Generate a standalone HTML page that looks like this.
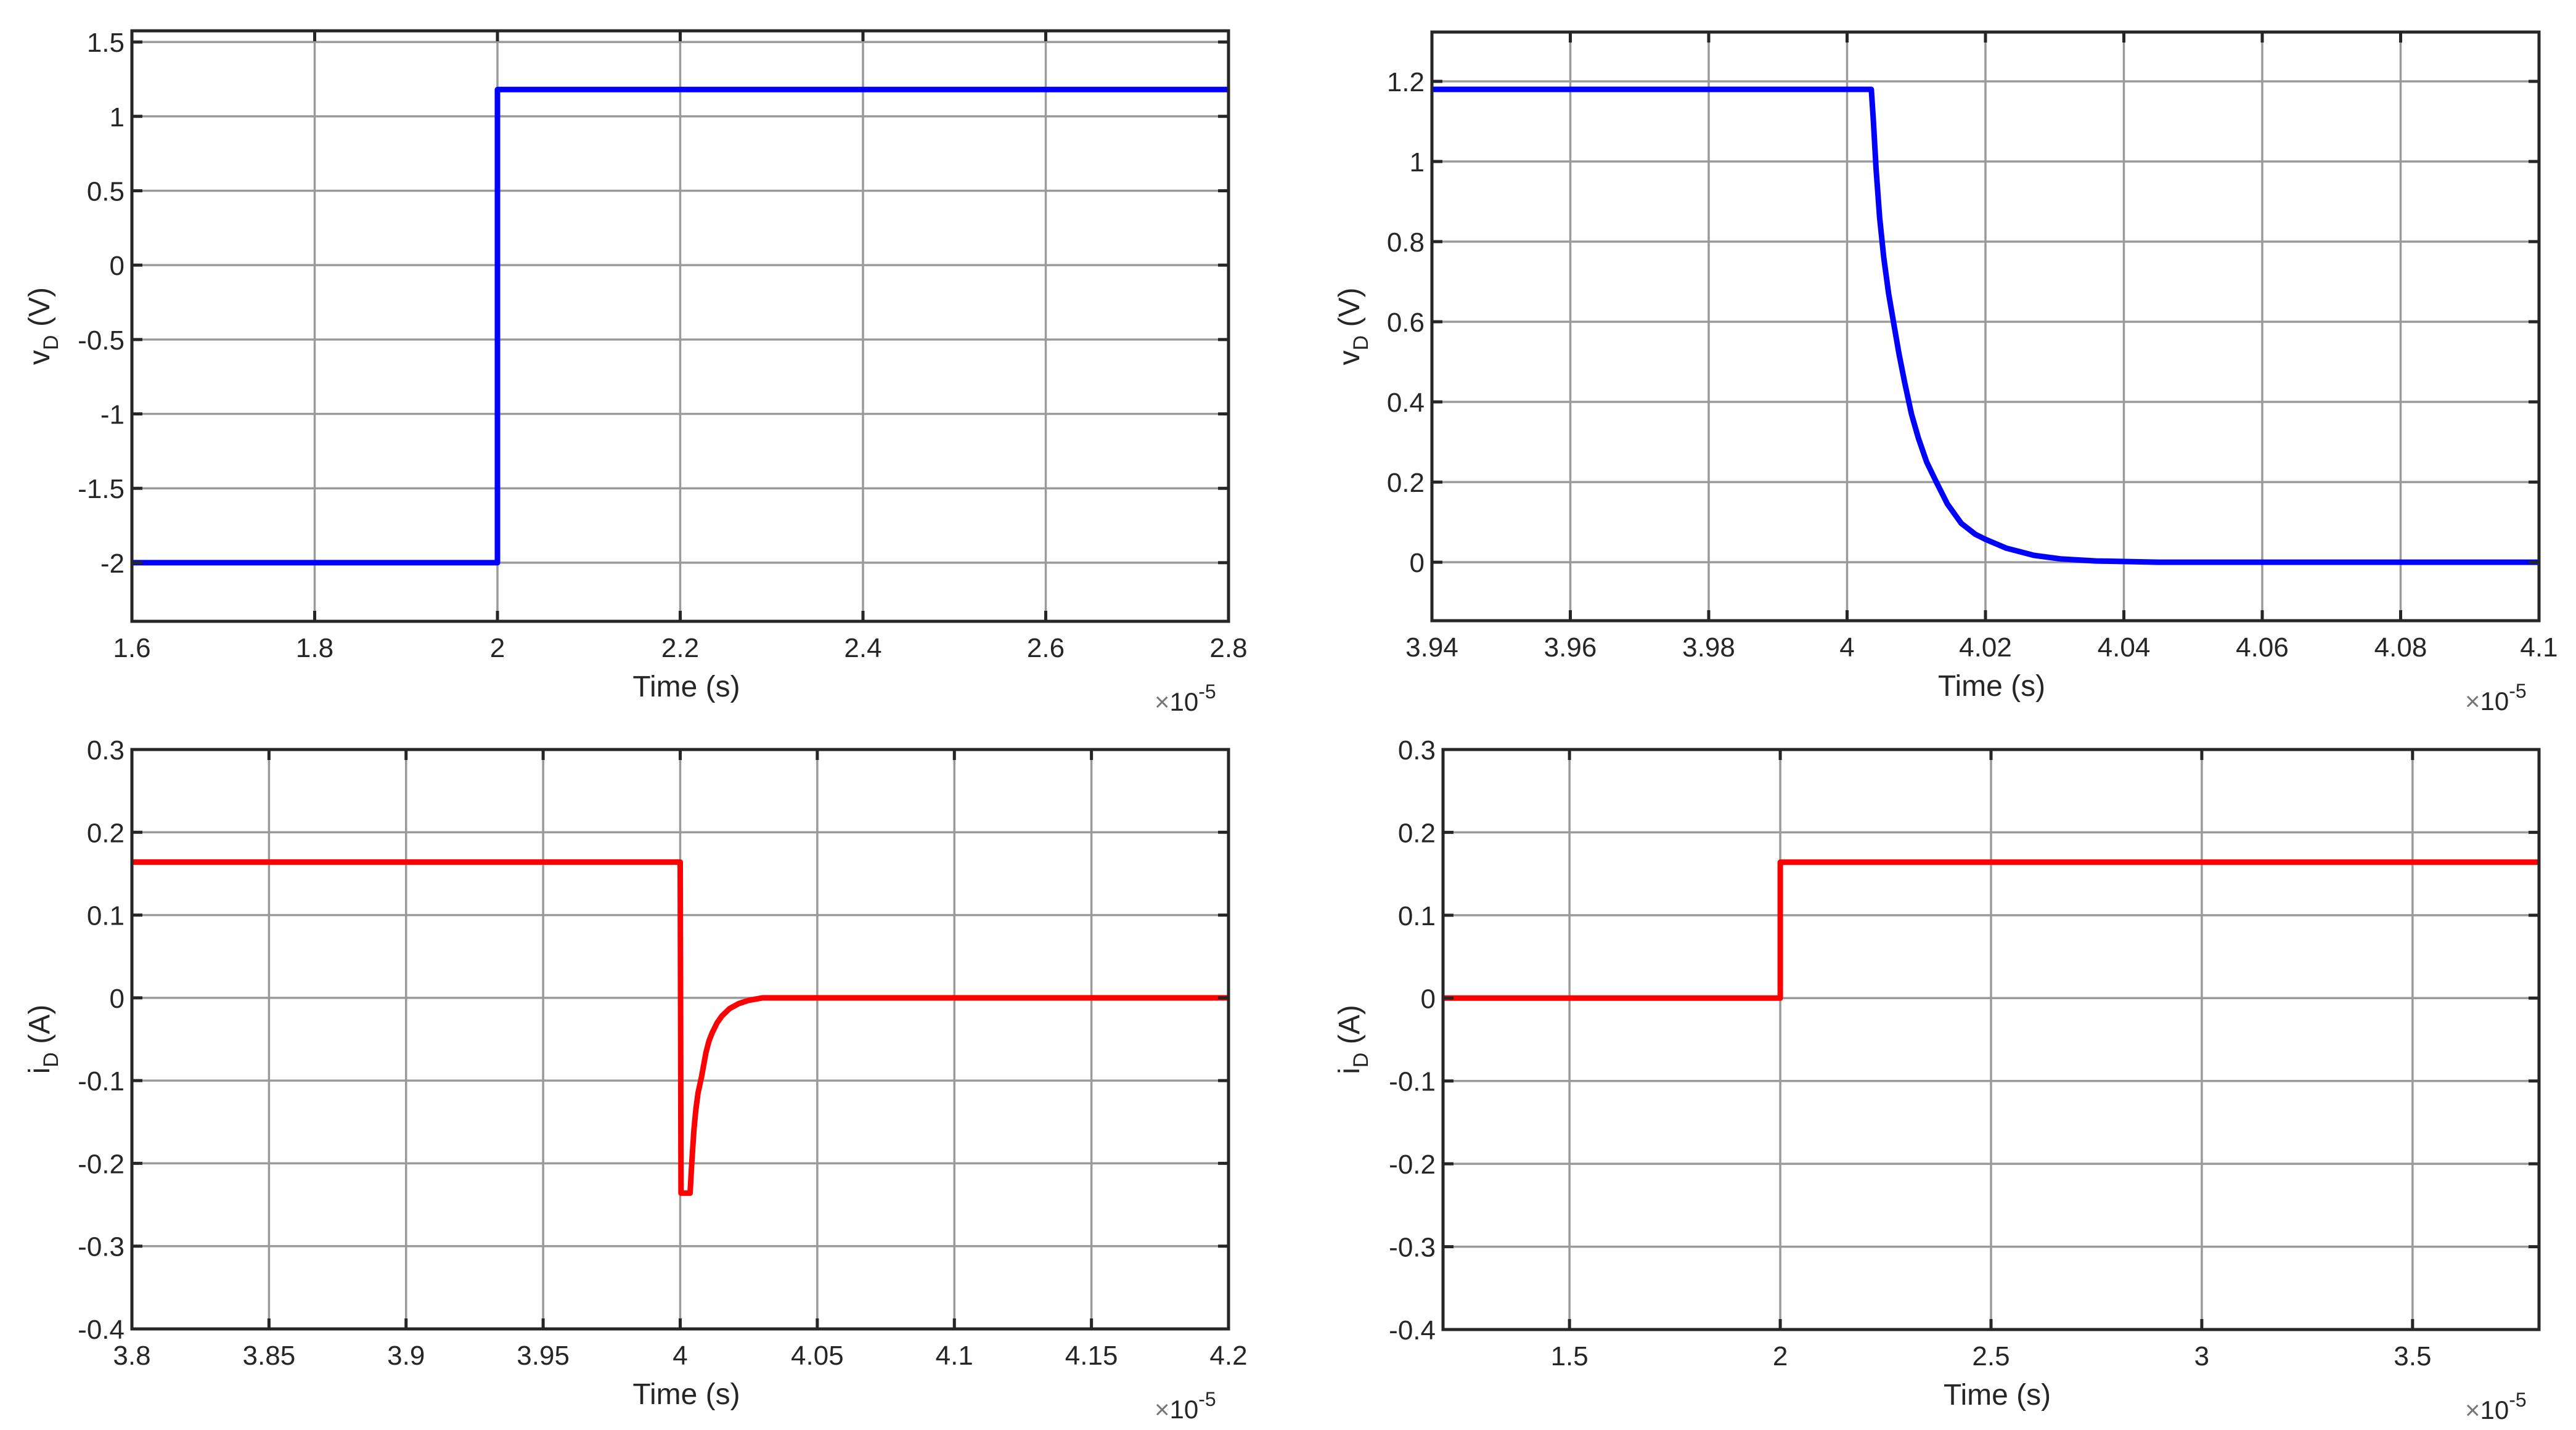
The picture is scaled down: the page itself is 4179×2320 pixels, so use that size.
<!DOCTYPE html>
<html><head><meta charset="utf-8"><style>
html,body{margin:0;padding:0;background:#fff;}
svg{display:block;}
text{font-family:"Liberation Sans",sans-serif;fill:#262626;}
</style></head>
<body>
<svg id="fig" width="4179" height="2320" viewBox="0 0 4179 2320" xmlns="http://www.w3.org/2000/svg"></svg>
<script>
// ---- data (times in units of 1e-5 s) ----
const tlTime = [1.6, 2.0, 2.0, 2.8];
const tlVolt = [-2, -2, 1.18, 1.18];
const tlXTicks = [1.6, 1.8, 2.0, 2.2, 2.4, 2.6, 2.8];
const tlXLabels = ["1.6","1.8","2","2.2","2.4","2.6","2.8"];
const tlYTicks = [-2, -1.5, -1, -0.5, 0, 0.5, 1, 1.5];
const tlYLabels = ["-2","-1.5","-1","-0.5","0","0.5","1","1.5"];

const trTime = [3.94, 4.0035, 4.0038, 4.0042, 4.0047, 4.0053, 4.0060, 4.0067, 4.0075, 4.0083, 4.0093, 4.0103, 4.0115, 4.0129, 4.0145, 4.0165, 4.0185, 4.0200, 4.0230, 4.0270, 4.0310, 4.0360, 4.0450, 4.10];
const trVolt = [1.18, 1.18, 1.10, 0.98, 0.86, 0.76, 0.67, 0.60, 0.52, 0.45, 0.37, 0.31, 0.25, 0.20, 0.145, 0.097, 0.070, 0.057, 0.035, 0.017, 0.008, 0.003, 0.0, 0.0];
const trXTicks = [3.94, 3.96, 3.98, 4.0, 4.02, 4.04, 4.06, 4.08, 4.10];
const trXLabels = ["3.94","3.96","3.98","4","4.02","4.04","4.06","4.08","4.1"];
const trYTicks = [0, 0.2, 0.4, 0.6, 0.8, 1.0, 1.2];
const trYLabels = ["0","0.2","0.4","0.6","0.8","1","1.2"];

const blTime = [3.8, 4.0, 4.0003, 4.0008, 4.0036, 4.0042, 4.0050, 4.0057, 4.0065, 4.0078, 4.0094, 4.0105, 4.0117, 4.0135, 4.0152, 4.0180, 4.0213, 4.0250, 4.0300, 4.2];
const blCurr = [0.164, 0.164, -0.236, -0.236, -0.236, -0.20, -0.16, -0.135, -0.115, -0.095, -0.066, -0.052, -0.042, -0.030, -0.022, -0.013, -0.007, -0.003, 0.0, 0.0];
const blXTicks = [3.8, 3.85, 3.9, 3.95, 4.0, 4.05, 4.1, 4.15, 4.2];
const blXLabels = ["3.8","3.85","3.9","3.95","4","4.05","4.1","4.15","4.2"];
const iYTicks = [-0.4, -0.3, -0.2, -0.1, 0, 0.1, 0.2, 0.3];
const iYLabels = ["-0.4","-0.3","-0.2","-0.1","0","0.1","0.2","0.3"];

const brTime = [1.2, 2.0, 2.0, 3.8];
const brCurr = [0, 0, 0.164, 0.164];
const brXTicks = [1.5, 2.0, 2.5, 3.0, 3.5];
const brXLabels = ["1.5","2","2.5","3","3.5"];

const NS = "http://www.w3.org/2000/svg";
const fig = document.getElementById('fig');
function el(tag, attrs, parent){
  const e = document.createElementNS(NS, tag);
  for (const k in attrs) e.setAttribute(k, attrs[k]);
  (parent||fig).appendChild(e);
  return e;
}

function panel(cfg){
  const g = el('g', {});
  
  
  const {L,R,T,B,x0,x1,y0,y1} = cfg;
  const sx = v => L + (v - x0) / (x1 - x0) * (R - L);
  const sy = v => B - (v - y0) / (y1 - y0) * (B - T);
  el('rect', {x:L, y:T, width:R-L, height:B-T, fill:'#fff'}, g);
  cfg.xt.forEach(v => {
    const l = el('line', {x1:sx(v), x2:sx(v), y1:T, y2:B, stroke:'#9a9a9a', 'stroke-width':3.5}, g);
    
    
  });
  cfg.yt.forEach(v => {
    const l = el('line', {x1:L, x2:R, y1:sy(v), y2:sy(v), stroke:'#9a9a9a', 'stroke-width':3.5}, g);
    
    
  });
  const pts = cfg.xs.map((x,i) => sx(x).toFixed(1) + ',' + sy(cfg.ys[i]).toFixed(1)).join(' ');
  const s = el('polyline', {points:pts, fill:'none', stroke:cfg.color, 'stroke-width':9, 'stroke-linejoin':'round'}, g);
  
  
  const box = el('rect', {x:L, y:T, width:R-L, height:B-T, fill:'none', stroke:'#262626', 'stroke-width':5}, g);
  
  
  cfg.xt.forEach((v,i) => {
    el('line', {x1:sx(v), x2:sx(v), y1:B, y2:B-17, stroke:'#262626', 'stroke-width':5}, g);
    el('line', {x1:sx(v), x2:sx(v), y1:T, y2:T+17, stroke:'#262626', 'stroke-width':5}, g);
    const t = el('text', {x:sx(v), y:B+58, 'font-size':44, 'text-anchor':'middle'}, g);
    t.textContent = cfg.xl[i];
    
    
  });
  cfg.yt.forEach((v,i) => {
    el('line', {x1:L, x2:L+17, y1:sy(v), y2:sy(v), stroke:'#262626', 'stroke-width':5}, g);
    el('line', {x1:R, x2:R-17, y1:sy(v), y2:sy(v), stroke:'#262626', 'stroke-width':5}, g);
    const t = el('text', {x:L-12, y:sy(v)+16, 'font-size':44, 'text-anchor':'end'}, g);
    t.textContent = cfg.yl[i];
    
    
  });
  const xt = el('text', {x:(L+R)/2 + 10, y:B+122, 'font-size':48, 'text-anchor':'middle'}, g);
  xt.textContent = 'Time (s)';
  
  
  const ex = el('text', {x:R-120, y:B+145, 'font-size':42}, g);
  
  
  const a = el('tspan', {fill:'#777'}, ex); a.textContent = '\u00d7';
  const b = el('tspan', {}, ex); b.textContent = '10';
  const c = el('tspan', {dy:-20, 'font-size':32}, ex); c.textContent = '-5';
  const cy = (T+B)/2;
  const yt = el('text', {x:cfg.ylx, y:cy, 'font-size':48, 'text-anchor':'middle', transform:`rotate(-90 ${cfg.ylx} ${cy})`}, g);
  
  
  const p1 = el('tspan', {}, yt); p1.textContent = cfg.ysym;
  const p2 = el('tspan', {dy:14, 'font-size':34}, yt); p2.textContent = 'D';
  const p3 = el('tspan', {dy:-14}, yt); p3.textContent = ' (' + cfg.yunit + ')';
}

panel({name:'voltage-turn-on-plot', seriesName:'vd-turn-on-line', color:'#0000ff',
  L:214, R:1993, T:50, B:1008, x0:1.6, x1:2.8, y0:-2.394, y1:1.575,
  xs:tlTime, ys:tlVolt, xt:tlXTicks, xl:tlXLabels, yt:tlYTicks, yl:tlYLabels,
  ylx:80, ysym:'v', yunit:'V'});
panel({name:'voltage-turn-off-plot', seriesName:'vd-turn-off-line', color:'#0000ff',
  L:2323, R:4119, T:52, B:1007, x0:3.94, x1:4.10, y0:-0.146, y1:1.323,
  xs:trTime, ys:trVolt, xt:trXTicks, xl:trXLabels, yt:trYTicks, yl:trYLabels,
  ylx:2205, ysym:'v', yunit:'V'});
panel({name:'current-turn-off-plot', seriesName:'id-turn-off-line', color:'#ff0000',
  L:214, R:1993, T:1216, B:2156, x0:3.8, x1:4.2, y0:-0.4, y1:0.3,
  xs:blTime, ys:blCurr, xt:blXTicks, xl:blXLabels, yt:iYTicks, yl:iYLabels,
  ylx:80, ysym:'i', yunit:'A'});
panel({name:'current-turn-on-plot', seriesName:'id-turn-on-line', color:'#ff0000',
  L:2341, R:4119, T:1216, B:2157, x0:1.2, x1:3.8, y0:-0.4, y1:0.3,
  xs:brTime, ys:brCurr, xt:brXTicks, xl:brXLabels, yt:iYTicks, yl:iYLabels,
  ylx:2205, ysym:'i', yunit:'A'});
</script>
</body></html>
